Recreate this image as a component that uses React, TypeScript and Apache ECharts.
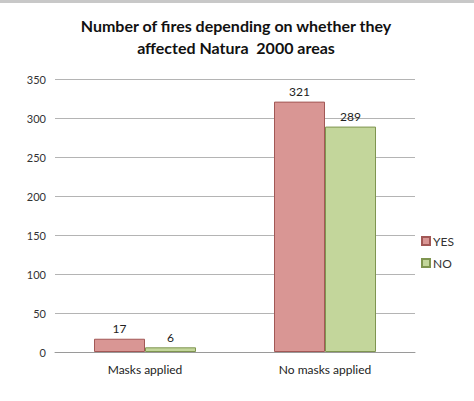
import { useEffect, useRef } from 'react';
import * as echarts from 'echarts';

const categories = ['Masks applied', 'No masks applied'];
const yesValues = [17, 321];
const noValues = [6, 289];
const yTicks = [0, 50, 100, 150, 200, 250, 300, 350];

export default function App() {
  const chartRef = useRef<HTMLDivElement>(null);

  useEffect(() => {
    if (!chartRef.current) return;
    const chart = echarts.init(chartRef.current, undefined, { renderer: 'svg' });

    const option: echarts.EChartsOption = {
      animation: false,
      backgroundColor: '#ffffff',
      textStyle: { fontFamily: 'Lato, "Open Sans", sans-serif' },
      title: {
        text: 'Number of fires depending on whether they\naffected Natura  2000 areas',
        left: 231,
        top: 9,
        textAlign: 'center',
        textStyle: {
          fontFamily: 'Lato, sans-serif',
          fontSize: 16,
          fontWeight: 'bold',
          color: '#111',
          lineHeight: 22,
        },
      },
      graphic: [
        {
          type: 'rect',
          shape: { x: 0, y: 0, width: 474, height: 3 },
          style: { fill: '#c8c8c8' },
        },
      ],
      legend: {
        orient: 'vertical',
        left: 416,
        top: 230,
        itemWidth: 8,
        itemHeight: 8,
        itemGap: 10,
        icon: 'rect',
        textStyle: { fontSize: 12, color: '#333', padding: [0, 0, 0, -2] },
        data: ['YES', 'NO'],
      },
      grid: {
        left: 55,
        right: 59,
        top: 79,
        bottom: 49,
      },
      xAxis: {
        type: 'category',
        data: categories,
        axisLine: { lineStyle: { color: '#9a9a9a' } },
        axisTick: { show: false },
        axisLabel: { color: '#222', fontSize: 12, margin: 11 },
      },
      yAxis: {
        type: 'value',
        min: yTicks[0],
        max: yTicks[yTicks.length - 1],
        interval: 50,
        axisLine: { show: false },
        axisTick: { show: false },
        axisLabel: { color: '#333', fontSize: 11, margin: 9 },
        splitLine: { lineStyle: { color: '#b4b4b4' } },
      },
      series: [
        {
          name: 'YES',
          type: 'bar',
          data: yesValues,
          barWidth: 51,
          barGap: '0%',
          itemStyle: { color: '#d99694', borderColor: '#a25856', borderWidth: 1 },
          label: { show: true, position: 'top', color: '#222', fontSize: 12, distance: 4 },
        },
        {
          name: 'NO',
          type: 'bar',
          data: noValues,
          barWidth: 51,
          barGap: '0%',
          itemStyle: { color: '#c3d69b', borderColor: '#7f9550', borderWidth: 1 },
          label: { show: true, position: 'top', color: '#222', fontSize: 12, distance: 4 },
        },
      ],
    };

    chart.setOption(option);
    return () => {
      chart.dispose();
    };
  }, []);

  return (
    <div
      ref={chartRef}
      style={{ position: 'absolute', left: 0, top: 0, width: 474, height: 401 }}
    />
  );
}
